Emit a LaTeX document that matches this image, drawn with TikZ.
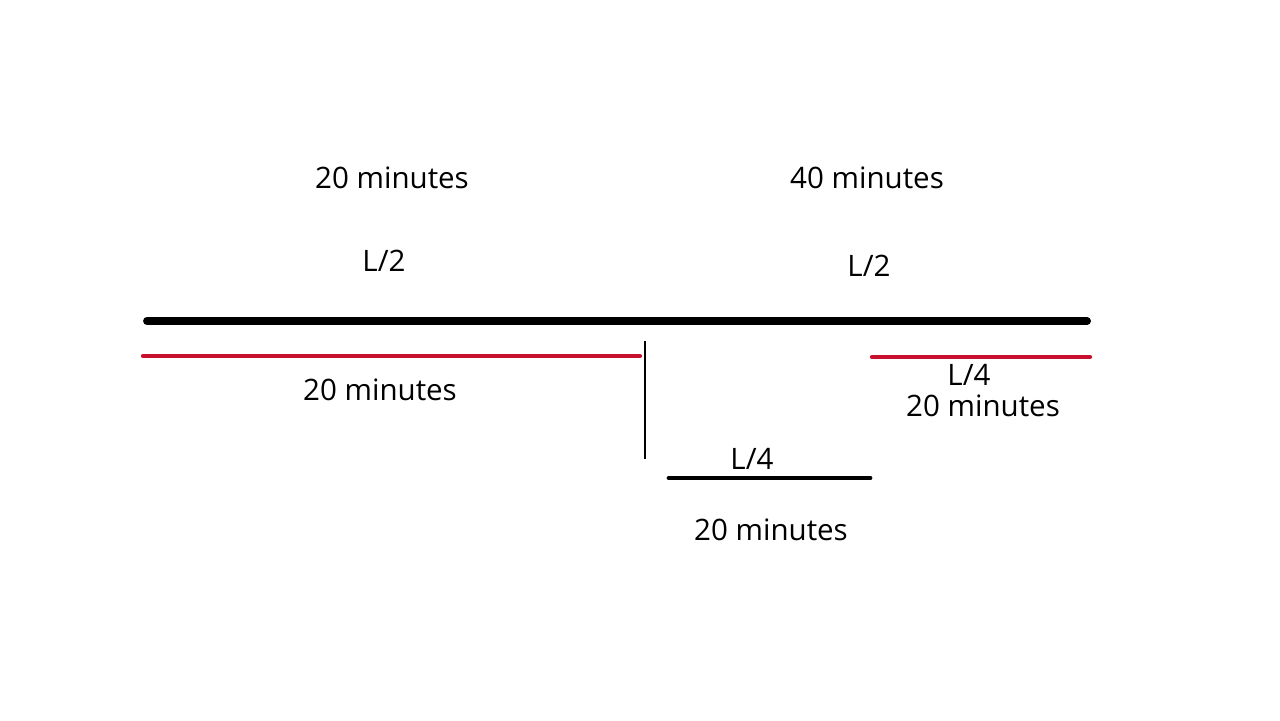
\documentclass[tikz,border=0pt]{standalone}
\usepackage{fontspec}
\setmainfont{Open Sans}
\usepackage{tikz}
\usetikzlibrary{positioning}

\definecolor{segred}{RGB}{200,16,46}

\begin{document}
\begin{tikzpicture}[x=0.02cm,y=-0.02cm,
        lbl/.style={inner sep=0pt,font=\fontsize{16.8}{18}\selectfont},
        mainline/.style={line width=4.5pt,line cap=round},
        redline/.style={segred,line width=2.4pt,line cap=round},
        thinline/.style={line width=1.6pt},
        shortline/.style={line width=2.8pt,line cap=round}]
        \useasboundingbox (0,0) rectangle (1280,720);

        % Top labels
        \node[lbl] (tleft) at (392,178) {20 minutes};
        \node[lbl] (tright) at (867,178) {40 minutes};
        \node[lbl] (hleft) at (384,261) {L/2};
        \node[lbl] (hright) at (869,266) {L/2};

        % Main line
        \coordinate (mstart) at (147,321);
        \coordinate (mend) at (1087,321);
        \draw[mainline] (mstart) -- (mend);

        % Red segments
        \coordinate (r1start) at (143,356);
        \coordinate (r1end) at (640,356);
        \coordinate (r2start) at (872,357);
        \coordinate (r2end) at (1090,357);
        \draw[redline] (r1start) -- (r1end);
        \draw[redline] (r2start) -- (r2end);

        % Divider and lower segment
        \coordinate (vtop) at (645,341);
        \coordinate (vbot) at (645,459);
        \draw[thinline] (vtop) -- (vbot);
        \coordinate (sstart) at (669,478);
        \coordinate (send) at (870,478);
        \draw[shortline] (sstart) -- (send);

        % Lower labels
        \node[lbl] (bleft) at (380,390) {20 minutes};
        \node[lbl] (qright) at (969,375) {L/4};
        \node[lbl] (bright) at (983,406) {20 minutes};
        \node[lbl] (qmid) at (752,459) {L/4};
        \node[lbl] (bmid) at (771,530) {20 minutes};
\end{tikzpicture}
\end{document}
